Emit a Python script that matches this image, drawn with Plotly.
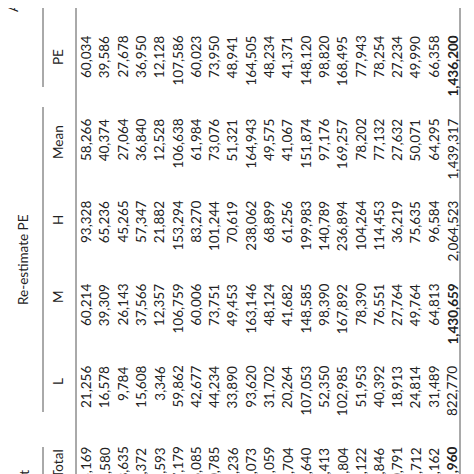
import plotly.graph_objects as go

# Table is printed rotated (reads bottom to top)
total = ["6,169", "3,580", "8,635", "1,372", "3,593", "7,179", "6,085", "0,785", "4,236", "0,073",
         "3,059", "5,704", "3,640", "8,413", "6,804", "8,122", "3,846", "0,791", "4,712", "1,162", "77,960"]
low = ["21,256", "16,578", "9,784", "15,608", "3,346", "59,862", "42,677", "44,234", "33,890", "93,620",
       "31,702", "20,264", "107,053", "52,350", "102,985", "51,953", "40,392", "18,913", "24,814", "31,489", "822,770"]
mid = ["60,214", "39,309", "26,143", "37,566", "12,357", "106,759", "60,006", "73,751", "49,453", "163,146",
       "48,124", "41,682", "148,585", "98,390", "167,892", "78,390", "76,551", "27,764", "49,764", "64,813", "1,430,659"]
high = ["93,328", "65,236", "45,265", "57,347", "21,882", "153,294", "83,270", "101,244", "70,619", "238,062",
        "68,899", "61,256", "199,983", "140,789", "236,894", "104,264", "114,453", "36,219", "75,635", "96,584", "2,064,523"]
mean = ["58,266", "40,374", "27,064", "36,840", "12,528", "106,638", "61,984", "73,076", "51,321", "164,943",
        "49,575", "41,067", "151,874", "97,176", "169,257", "78,202", "77,132", "27,632", "50,071", "64,295", "1,439,317"]
pe = ["60,034", "39,586", "27,678", "36,950", "12,128", "107,586", "60,023", "73,950", "48,941", "164,505",
      "48,234", "41,371", "148,120", "98,820", "168,495", "77,943", "78,254", "27,234", "49,990", "66,358", "1,436,200"]

headers = ["Total", "L", "M", "H", "Mean", "PE"]
columns = [total, low, mid, high, mean, pe]
bold_last = [True, False, True, False, False, True]
# column text end positions / header centres along the (rotated) table width
col_end = [37, 118, 200, 283, 365, 448]
head_pos = [18, 100, 185, 262, 340, 425]

FONT = "Lato"
FS = 13.5
row0, step = 78, 18.3
n = len(pe)

fig = go.Figure()
fig.add_trace(go.Scatter(x=[0], y=[0], mode="markers", marker=dict(opacity=0), hoverinfo="skip"))

ann = []
for c, vals in enumerate(columns):
    for i, v in enumerate(vals):
        txt = f"<b>{v}</b>" if (i == n - 1 and bold_last[c]) else v
        ann.append(dict(x=i, y=col_end[c], text=txt, textangle=-90, showarrow=False,
                        xanchor="center", yanchor="top", font=dict(size=FS, color="#222")))
    ann.append(dict(x=50 / 474, xref="paper", y=head_pos[c], text=headers[c], textangle=-90,
                    showarrow=False, xanchor="center", yanchor="middle", font=dict(size=FS, color="#222")))

ann.append(dict(x=15 / 474, xref="paper", y=222, text="Re-estimate PE", textangle=-90, showarrow=False,
                xanchor="center", yanchor="middle", font=dict(size=FS, color="#222")))
ann.append(dict(x=15 / 474, xref="paper", y=14, text="Budget", textangle=-90, showarrow=False,
                xanchor="center", yanchor="top", font=dict(size=FS, color="#222")))
ann.append(dict(x=5 / 474, xref="paper", y=468, text="A", textangle=-90, showarrow=False,
                xanchor="center", yanchor="bottom", font=dict(size=FS, color="#222")))
ann.append(dict(x=466 / 474, xref="paper", y=0.36, yref="paper",
                text="Likely), H(High), CL(Confidence Level).",
                textangle=-90, showarrow=False, xanchor="center", yanchor="top",
                font=dict(size=12, color="#222")))

line = dict(color="#555", width=1)
shapes = [
    dict(type="line", xref="paper", yref="y", x0=35 / 474, x1=35 / 474, y0=70, y1=375, line=line),
    dict(type="line", xref="paper", yref="y", x0=35 / 474, x1=35 / 474, y0=395, y1=474, line=line),
    dict(type="line", xref="paper", yref="y", x0=35 / 474, x1=35 / 474, y0=0, y1=35, line=line),
    dict(type="line", xref="paper", yref="paper", x0=68 / 474, x1=68 / 474, y0=0, y1=1, line=line),
    dict(type="line", xref="paper", yref="paper", x0=452 / 474, x1=452 / 474, y0=0, y1=1, line=line),
]

fig.update_layout(
    width=474, height=474,
    margin=dict(l=0, r=0, t=0, b=0),
    paper_bgcolor="white", plot_bgcolor="white",
    font=dict(family=FONT),
    showlegend=False,
    annotations=ann, shapes=shapes,
    xaxis=dict(range=[-row0 / step, (474 - row0) / step], visible=False),
    yaxis=dict(range=[0, 474], visible=False),
)

fig.write_html("out.html")
